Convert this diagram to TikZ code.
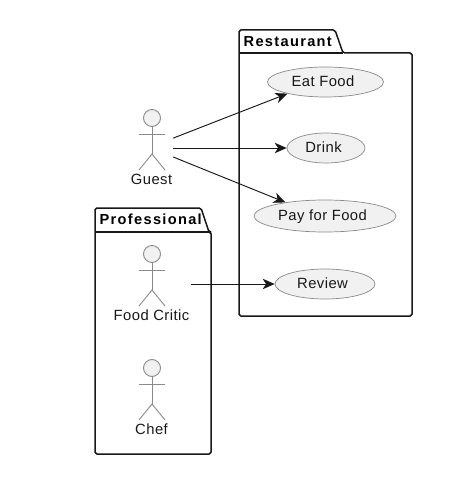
\documentclass[tikz,border=0pt]{standalone}
\usepackage{fontspec}
\setmainfont[LetterSpace=3]{Liberation Sans}
\newfontfamily\titlefont[LetterSpace=9]{Liberation Sans Bold}
\usetikzlibrary{shapes.geometric,arrows.meta}
\definecolor{ufill}{HTML}{F1F1F1}
\definecolor{uline}{HTML}{181818}
\definecolor{ugray}{HTML}{8A8A8A}
\tikzset{
  pkg/.style={draw=uline,line width=1.5pt,rounded corners=1.8pt,line join=round},
  usecase/.style={ellipse,draw=ugray,fill=ufill,line width=0.7pt,inner sep=0pt,font=\fontsize{14.8}{16}\selectfont,text=uline,text height=11pt,text depth=2pt,execute at end node={\hspace*{5pt}}},
  actorbox/.style={rectangle,inner sep=0pt,minimum height=70pt},
  stick/.style={draw=ugray,line width=0.9pt},
  actorname/.style={inner sep=0pt,font=\fontsize{14.8}{16}\selectfont,text=uline},
  pkgname/.style={inner sep=0pt,font=\titlefont\fontsize{14.6}{16}\selectfont,text=black},
  link/.style={draw=uline,line width=0.95pt,-{Stealth[length=12pt,width=10.5pt,inset=3.5pt]}}
}
\newcommand{\stickman}[2]{%
  \draw[stick,fill=ufill] (#1,#2) circle[radius=8.5];
  \draw[stick] (#1,#2+8.5) -- (#1,#2+36);
  \draw[stick] (#1-13,#2+16.5) -- (#1+13,#2+16.5);
  \draw[stick] (#1-13,#2+52) -- (#1,#2+36) -- (#1+13,#2+52);
}
\begin{document}
\begin{tikzpicture}[x=1pt,y=-1pt]
\useasboundingbox (0,0) rectangle (473,500);
% packages
\draw[pkg] (239,53) -- (239,30) -- (335,30) -- (343,53) -- (412,53) -- (412,316) -- (239,316) -- cycle;
\draw[pkg] (239,53) -- (343,53);
\node[pkgname,anchor=base west] (restaurant) at (243.5,46.5) {Restaurant};
\draw[pkg] (95,232) -- (95,208) -- (201,208) -- (209,232) -- (211,232) -- (211,454) -- (95,454) -- cycle;
\draw[pkg] (95,232) -- (209,232);
\node[pkgname,anchor=base west] (professional) at (99.5,224.5) {Professional};
% actors
\stickman{152}{118}
\stickman{152}{254}
\stickman{152}{368}
\node[actorname] (guestname) at (151.5,179.5) {Guest};
\node[actorname] (criticname) at (151.5,315.5) {Food Critic};
\node[actorname] (chefname) at (151.5,429.5) {Chef};
\node[actorbox,minimum width=42pt] (guest) at (152,148) {};
\node[actorbox,minimum width=78pt] (critic) at (152,284) {};
% use cases
\node[usecase,minimum width=116pt,minimum height=30pt] (eat) at (325.5,82) {Eat Food};
\node[usecase,minimum width=78pt,minimum height=30pt] (drink) at (326,148) {Drink};
\node[usecase,minimum width=142pt,minimum height=32pt] (pay) at (325,216) {Pay for Food};
\node[usecase,minimum width=100pt,minimum height=30pt] (review) at (325,284) {Review};
% connectors
\draw[link] (guest.25.5) -- (eat.197);
\draw[link] (guest) -- (drink);
\draw[link] (guest.-23) -- (pay.161);
\draw[link] (critic) -- (review);
\end{tikzpicture}
\end{document}
